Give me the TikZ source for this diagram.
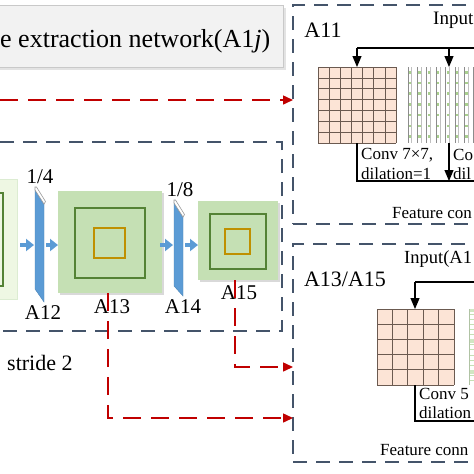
\documentclass[tikz,border=0pt]{standalone}
\usepackage{fontspec}
\setmainfont{Liberation Serif}
\usetikzlibrary{arrows.meta}
\definecolor{slate}{HTML}{44546A}
\definecolor{darkred}{HTML}{C00000}
\definecolor{bluea}{HTML}{5B9BD5}
\definecolor{lgreen}{HTML}{C5E0B4}
\definecolor{dgreen}{HTML}{548235}
\definecolor{gold}{HTML}{BF9000}
\definecolor{peach}{HTML}{FCE4D6}
\definecolor{gridline}{HTML}{6B5A50}
\definecolor{titlefill}{HTML}{F2F2F2}
\definecolor{titledraw}{HTML}{C9C9C9}
\definecolor{palegreen}{HTML}{EEF7E3}
\definecolor{dotgreen}{HTML}{A9D08E}
\definecolor{stripegray}{HTML}{8C8C8C}
\tikzset{
  dbox/.style={draw=slate, line width=1.6pt, dash pattern=on 14pt off 9pt, inner sep=0pt, outer sep=0pt, anchor=north west},
  reddash/.style={draw=darkred, line width=1.5pt, dash pattern=on 18pt off 10pt, -{Triangle[width=9pt,length=10pt]}},
  bluearr/.style={draw=bluea, line width=3.5pt, -{Triangle[width=12pt,length=8pt]}},
  blackarr/.style={draw=black, line width=1.2pt, -{Triangle[width=9pt,length=11pt]}},
  blackline/.style={draw=black, line width=1.2pt},
  lab/.style={font=\fontsize{21}{24}\selectfont, inner sep=0pt},
  bigl/.style={font=\fontsize{22}{26}\selectfont, inner sep=0pt},
  smallt/.style={font=\fontsize{17}{20}\selectfont, inner sep=0pt, anchor=west},
  greenbox/.style={fill=lgreen, inner sep=0pt, outer sep=0pt, anchor=north west},
  dgsq/.style={draw=dgreen, line width=1.8pt},
  goldsq/.style={draw=gold, line width=1.8pt},
  planefront/.style={fill=bluea, draw=bluea!85!black, line width=0.4pt},
  planetop/.style={fill=white, draw=gray!80, line width=0.6pt},
}
\begin{document}
\begin{tikzpicture}[x=1pt,y=-1pt]
\useasboundingbox (0,0) rectangle (474,474);
\fill[white] (0,0) rectangle (474,474);
\clip (0,0) rectangle (474,474);

% ---------- title box ----------
\fill[gray!22] (-20,8) rectangle (286,70);
\node[draw=titledraw, fill=titlefill, line width=1pt, minimum width=303pt, minimum height=62pt, anchor=north east, inner sep=0pt, outer sep=0pt] (title) at (283,5) {};
\node[font=\fontsize{26}{30}\selectfont, anchor=base west, inner sep=0pt] (titletext) at (0,47) {e extraction network(A1\textit{j})};

% ---------- dashed frames ----------
\node[dbox, minimum width=207pt, minimum height=219pt] (a11) at (293,5) {};
\node[dbox, minimum width=302pt, minimum height=189pt, anchor=north east] (mid) at (282,142) {};
\node[dbox, minimum width=207pt, minimum height=218pt] (a1315) at (293,244) {};

% ---------- middle: feature maps ----------
\node[fill=palegreen, draw=lgreen!60, line width=0.6pt, minimum width=40pt, minimum height=120pt, anchor=north east, inner sep=0pt, outer sep=0pt] (a10) at (17,179) {};
\draw[dgsq] (-60,193) rectangle (3,286);

% plane A12
\coordinate (p12w) at (35,245);
\coordinate (p12e) at (44,245);
\path[planefront] (35,190) -- (44,204) -- (44,302) -- (35,289) -- cycle;
\path[planetop] (35,187) -- (36.5,187) -- (45.5,201.5) -- (44,204) -- (35,190) -- cycle;

% A13
\fill[gray!30] (60,193) rectangle (164,295);
\node[greenbox, minimum width=104pt, minimum height=102pt] (a13) at (58,191) {};
\draw[dgsq] (75,208) rectangle (145,278);
\draw[goldsq] (94,228) rectangle (125,258);

% plane A14
\coordinate (p14w) at (174,245);
\coordinate (p14e) at (183,245);
\path[planefront] (174,203) -- (183,217) -- (183,296) -- (174,286) -- cycle;
\path[planetop] (174,200) -- (175.5,200) -- (184.5,214.5) -- (183,217) -- (174,203) -- cycle;

% A15
\fill[gray!30] (200,203) rectangle (280,282);
\node[greenbox, minimum width=80pt, minimum height=79pt] (a15) at (198,201) {};
\draw[dgsq] (210,214) rectangle (266,269);
\draw[goldsq] (225,229) rectangle (250,254);

% blue arrows
\draw[bluearr] ([xshift=3pt]a10.east |- p12w) -- ([xshift=-1pt]p12w);
\draw[bluearr] ([xshift=2pt]p12e) -- (a13.west |- p12e);
\draw[bluearr] ([xshift=-2pt]a13.east |- p14w) -- ([xshift=-1pt]p14w);
\draw[bluearr] ([xshift=2pt]p14e) -- (a15.west |- p14e);

% labels
\node[lab] (t14) at (40,177) {1/4};
\node[lab] (t12) at (43,313) {A12};
\node[lab] (t13) at (112,307) {A13};
\node[lab] (t18) at (180,190) {1/8};
\node[lab] (t14b) at (183,307) {A14};
\node[lab] (t15) at (239,293) {A15};
\node[font=\fontsize{22}{26}\selectfont, anchor=west, inner sep=0pt] (stride) at (7,363) {stride 2};

% ---------- red dashed connectors ----------
\coordinate (r1) at (0,100);
\draw[reddash] (r1) -- (a11.west |- r1);
\coordinate (r2) at (235,367);
\coordinate (r3) at (108,418);
\draw[reddash] (r2 |- a15.south) -- (r2) -- (a1315.west |- r2);
\draw[reddash] (r3 |- a13.south) -- (r3) -- (a1315.west |- r3);

% ---------- A11 panel ----------
\node[bigl] (n11) at (323,30) {A11};
\node[font=\fontsize{19}{23}\selectfont, anchor=west, inner sep=0pt] (in1) at (433,20) {Input};
\coordinate (j1) at (357,48);
\coordinate (j2) at (449,48);
\coordinate (j3) at (480,48);
\draw[blackline] (j1) -- (j3);
\fill[peach] (318,67) rectangle (396,143);
\foreach \i in {0,...,7} {
  \draw[gridline, line width=0.7pt] ({318+\i*78/7},67) -- ({318+\i*78/7},143);
  \draw[gridline, line width=0.7pt] (318,{67+\i*76/7}) -- (396,{67+\i*76/7});
}
\coordinate (g1top) at (357,67);
\coordinate (g2top) at (449,67);
% dilated kernel
\foreach \i in {0,...,7} {
  \pgfmathsetmacro{\xx}{408+\i*9.4}
  \draw[stripegray, line width=1pt] (\xx,67) -- (\xx,143);
  \draw[stripegray!55, line width=1pt] ({\xx+3.8},67) -- ({\xx+3.8},143);
  \foreach \k in {0,...,6} {
    \fill[dotgreen] ({\xx+0.9},{71+\k*10.7}) rectangle ++(2.3,2.5);
  }
}
\draw[blackarr] (j1) -- (g1top);
\draw[blackarr] (j2) -- (g2top);
\coordinate (g1bot) at (357,143);
\coordinate (g2bot) at (449,143);
\coordinate (k1) at (357,181);
\coordinate (k2) at (449,181);
\coordinate (k3) at (480,181);
\draw[blackline] (g1bot) -- (k1) -- (k3);
\draw[blackarr] (g2bot) -- (k2);
\node[smallt] (c71) at (361,155) {Conv 7×7,};
\node[smallt] (c72) at (361,174) {dilation=1};
\node[smallt] (c73) at (453,155) {Co};
\node[smallt] (c74) at (453,174) {dil};
\node[smallt] (fc1) at (392,213) {Feature con};

% ---------- A13/A15 panel ----------
\node[bigl] (n1315) at (345,279) {A13/A15};
\node[font=\fontsize{18.5}{22}\selectfont, anchor=west, inner sep=0pt] (in2) at (404,259) {Input(A1};
\coordinate (m1) at (415,282);
\coordinate (m2) at (480,282);
\draw[blackline] (m1) -- (m2);
\fill[peach] (377,309) rectangle (454,385);
\foreach \i in {0,...,5} {
  \draw[gridline, line width=0.7pt] ({377+\i*77/5},309) -- ({377+\i*77/5},385);
  \draw[gridline, line width=0.7pt] (377,{309+\i*76/5}) -- (454,{309+\i*76/5});
}
\coordinate (h1top) at (415,309);
\draw[blackarr] (m1) -- (h1top);
\fill[white] (469,309) rectangle (480,385);
\foreach \k in {0,...,14} {
  \draw[lgreen, line width=0.8pt] (469,{309+\k*5.1}) -- (480,{309+\k*5.1});
}
\fill[lgreen!80] (469,309) rectangle (480,312);
\fill[lgreen!80] (469,339) rectangle (480,343);
\fill[lgreen!80] (469,370) rectangle (480,374);
\draw[lgreen!70!gray, line width=0.7pt] (469,309) -- (469,385);
\coordinate (h1bot) at (415,385);
\coordinate (q1) at (415,421);
\coordinate (q2) at (480,421);
\draw[blackline] (h1bot) -- (q1) -- (q2);
\node[smallt] (c51) at (419,394) {Conv 5};
\node[smallt] (c52) at (419,413) {dilation};
\node[smallt] (fc2) at (380,450) {Feature conn};
\end{tikzpicture}
\end{document}
